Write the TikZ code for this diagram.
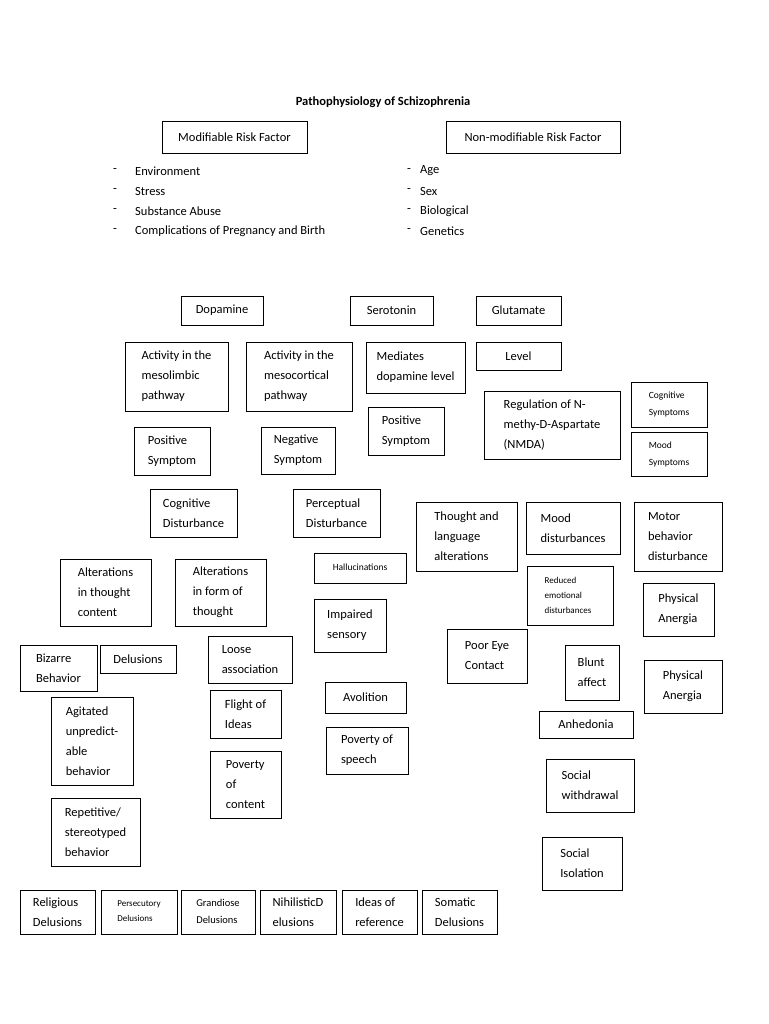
\documentclass[tikz,border=0pt]{standalone}
\usepackage{fontspec}
\setmainfont{Carlito}
\newcommand\bx[6]{%
  \pgfmathsetmacro\bw{#4-#2}\pgfmathsetmacro\bh{#5-#3}%
  \pgfmathsetmacro\cx{(#2+#4)/2}\pgfmathsetmacro\cy{(#3+#5)/2}%
  \node[box,minimum width=\bw pt,minimum height=\bh pt] (#1) at (\cx,\cy) {#6};}
\tikzset{box/.style={draw,line width=0.9pt,inner sep=2pt,align=left,font=\fontsize{12.5}{20}\selectfont},
 sm/.style={font=\fontsize{9.5}{17}\selectfont},
 txt/.style={anchor=west,inner sep=0pt,font=\fontsize{12.5}{15}\selectfont}}
\begin{document}
\begin{tikzpicture}[x=1pt,y=-1pt]
\useasboundingbox (0,0) rectangle (768,1024);
\node[txt,anchor=center,font=\bfseries\fontsize{12.5}{15}\selectfont] (title) at (383,102) {Pathophysiology of Schizophrenia};
\bx{mod}{162}{121}{307}{153}{Modifiable Risk Factor}
\bx{nmod}{446}{121}{620}{153}{Non-modifiable Risk Factor}
\foreach \t [count=\i] in {Environment,Stress,Substance Abuse,Complications of Pregnancy and Birth}{
  \pgfmathsetmacro\yy{171+20*(\i-1)}
  \node[txt] (l\i) at (135,\yy) {\t}; \node[txt] (ld\i) at (113,\yy) {-};}
\foreach \t [count=\i] in {Age,Sex,Biological,Genetics}{
  \pgfmathsetmacro\yy{171+20*(\i-1)}
  \node[txt] (r\i) at (420,\yy) {\t}; \node[txt] (rd\i) at (407,\yy) {-};}
\bx{dop}{181}{296}{263}{325}{Dopamine}
\bx{ser}{350}{296}{433}{325}{Serotonin}
\bx{glu}{476}{296}{561}{325}{Glutamate}
\bx{meso}{125}{342}{228}{411}{Activity in the\\mesolimbic\\pathway}
\bx{mesoc}{246}{342}{352}{411}{Activity in the\\mesocortical\\pathway}
\bx{med}{366}{342}{465}{393}{Mediates\\dopamine level}
\bx{lev}{476}{342}{561}{370}{Level}
\bx{pos2}{368}{407}{444}{455}{Positive\\Symptom}
\bx{nmda}{484}{391}{620}{459}{Regulation of N-\\methy-D-Aspartate\\(NMDA)}
\bx{cogs}{631}{382}{707}{427}{}
\node[sm,align=left] (cogst) at (669,404) {Cognitive\\Symptoms};
\bx{moods}{631}{432}{707}{476}{}
\node[sm,align=left] (moodst) at (669,454) {Mood\\Symptoms};
\bx{pos}{134}{427}{210}{475}{Positive\\Symptom}
\bx{neg}{261}{427}{335}{474}{Negative\\Symptom}
\bx{cogd}{150}{489}{237}{537}{Cognitive\\Disturbance}
\bx{perd}{293}{489}{380}{537}{Perceptual\\Disturbance}
\bx{tla}{416}{502}{517}{571}{Thought and\\language\\alterations}
\bx{mdist}{526}{502}{620}{554}{Mood\\disturbances}
\bx{motor}{634}{502}{722}{571}{Motor\\behavior\\disturbance}
\bx{hall}{314}{553}{406}{583}{}
\node[sm] (hallt) at (360,567) {Hallucinations};
\bx{red}{527}{566}{613}{625}{}
\node[align=left,font=\fontsize{9}{15}\selectfont] (redt) at (568,595) {Reduced\\emotional\\disturbances};
\bx{pa1}{643}{583}{714}{636}{Physical\\Anergia}
\bx{atc}{60}{559}{151}{626}{Alterations\\in thought\\content}
\bx{aft}{175}{559}{266}{626}{Alterations\\in form of\\thought}
\bx{imp}{314}{599}{386}{652}{Impaired\\sensory}
\bx{poor}{447}{629}{527}{683}{Poor Eye\\Contact}
\bx{blunt}{565}{645}{619}{700}{Blunt\\affect}
\bx{pa2}{644}{660}{722}{713}{Physical\\Anergia}
\bx{biz}{20}{645}{97}{691}{Bizarre\\Behavior}
\bx{del}{100}{645}{176}{673}{Delusions}
\bx{loose}{208}{636}{292}{683}{Loose\\association}
\bx{avo}{325}{682}{406}{713}{Avolition}
\bx{flight}{210}{690}{281}{738}{Flight of\\Ideas}
\bx{anh}{539}{711}{633}{738}{Anhedonia}
\bx{agi}{51}{697}{133}{785}{Agitated\\unpredict-\\able\\behavior}
\bx{povs}{326}{727}{408}{774}{Poverty of\\speech}
\bx{povc}{210}{751}{281}{818}{Poverty\\of\\content}
\bx{socw}{546}{759}{634}{812}{Social\\withdrawal}
\bx{rep}{51}{798}{140}{866}{Repetitive/\\stereotyped\\behavior}
\bx{soci}{542}{837}{622}{890}{Social\\Isolation}
\bx{rel}{20}{890}{95}{934}{Religious\\Delusions}
\bx{pers}{101}{890}{177}{934}{}
\node[align=left,font=\fontsize{9}{15}\selectfont] (perst) at (139,911) {Persecutory\\Delusions};
\bx{gran}{181}{890}{255}{934}{}
\node[align=left,font=\fontsize{10.5}{17}\selectfont] (grant) at (218,911) {Grandiose\\Delusions};
\bx{nih}{260}{890}{336}{934}{NihilisticD\\elusions}
\bx{ideas}{342}{890}{417}{934}{Ideas of\\reference}
\bx{som}{422}{890}{497}{934}{Somatic\\Delusions}
\end{tikzpicture}
\end{document}
